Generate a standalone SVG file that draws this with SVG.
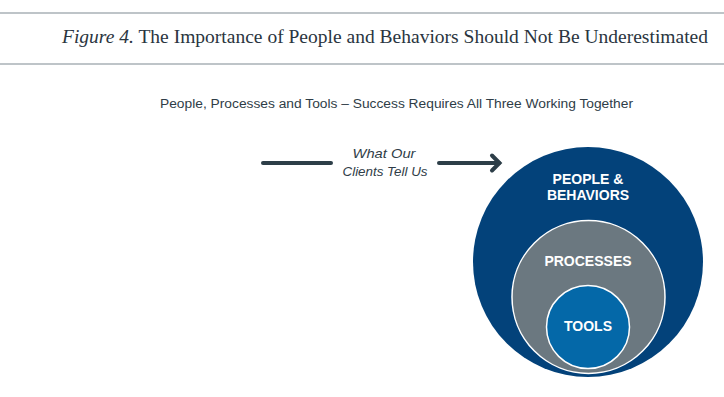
<svg xmlns="http://www.w3.org/2000/svg" width="724" height="397" viewBox="0 0 724 397">
<style>
.rule{stroke:#a9b0b6;stroke-width:1.5}
.title{font-family:"Liberation Serif",serif;font-size:18px;fill:#2a3540}
.sub{font-family:"Liberation Sans",Arial,sans-serif;font-size:12.5px;fill:#2f3d47}
.note{font-family:"Liberation Sans",Arial,sans-serif;font-size:13.5px;font-style:italic;fill:#2f3d47}
.lbl{font-family:"Liberation Sans",Arial,sans-serif;font-size:14px;font-weight:bold;fill:#ffffff;text-anchor:middle}
.conn{stroke:#2d3e48;stroke-width:4;fill:none;stroke-linecap:round}
</style>
<rect width="724" height="397" fill="#ffffff"/>
<line class="rule" x1="0" y1="13" x2="724" y2="13"/>
<line class="rule" x1="0" y1="64" x2="724" y2="64"/>
<text class="title" x="708" y="43" text-anchor="end" textLength="646" lengthAdjust="spacingAndGlyphs"><tspan font-style="italic">Figure 4.</tspan> The Importance of People and Behaviors Should Not Be Underestimated</text>
<text class="sub" x="160" y="108" textLength="473" lengthAdjust="spacingAndGlyphs">People, Processes and Tools – Success Requires All Three Working Together</text>
<g id="connectors">
<line class="conn" x1="263" y1="163" x2="331" y2="163"/>
<line class="conn" x1="439" y1="163" x2="499" y2="163"/>
<polyline class="conn" points="492,155.5 499.5,163 492,170.5" stroke-width="4.5" stroke-linejoin="miter" stroke-linecap="butt"/>
<text class="note" x="384" y="158" text-anchor="middle" textLength="63" lengthAdjust="spacingAndGlyphs">What Our</text>
<text class="note" x="385" y="176" text-anchor="middle" textLength="85" lengthAdjust="spacingAndGlyphs">Clients Tell Us</text>
</g>
<g id="people">
<circle cx="588" cy="262" r="115" fill="#03427a"/>
<text class="lbl" x="588" y="184">PEOPLE &amp;</text>
<text class="lbl" x="588" y="200">BEHAVIORS</text>
</g>
<g id="processes">
<circle cx="588.5" cy="297" r="76.5" fill="#6b7880" stroke="#ffffff" stroke-width="1.5"/>
<text class="lbl" x="588" y="266">PROCESSES</text>
</g>
<g id="tools">
<circle cx="588" cy="327" r="41.5" fill="#0468a8" stroke="#ffffff" stroke-width="1.5"/>
<text class="lbl" x="588" y="331">TOOLS</text>
</g>
</svg>
